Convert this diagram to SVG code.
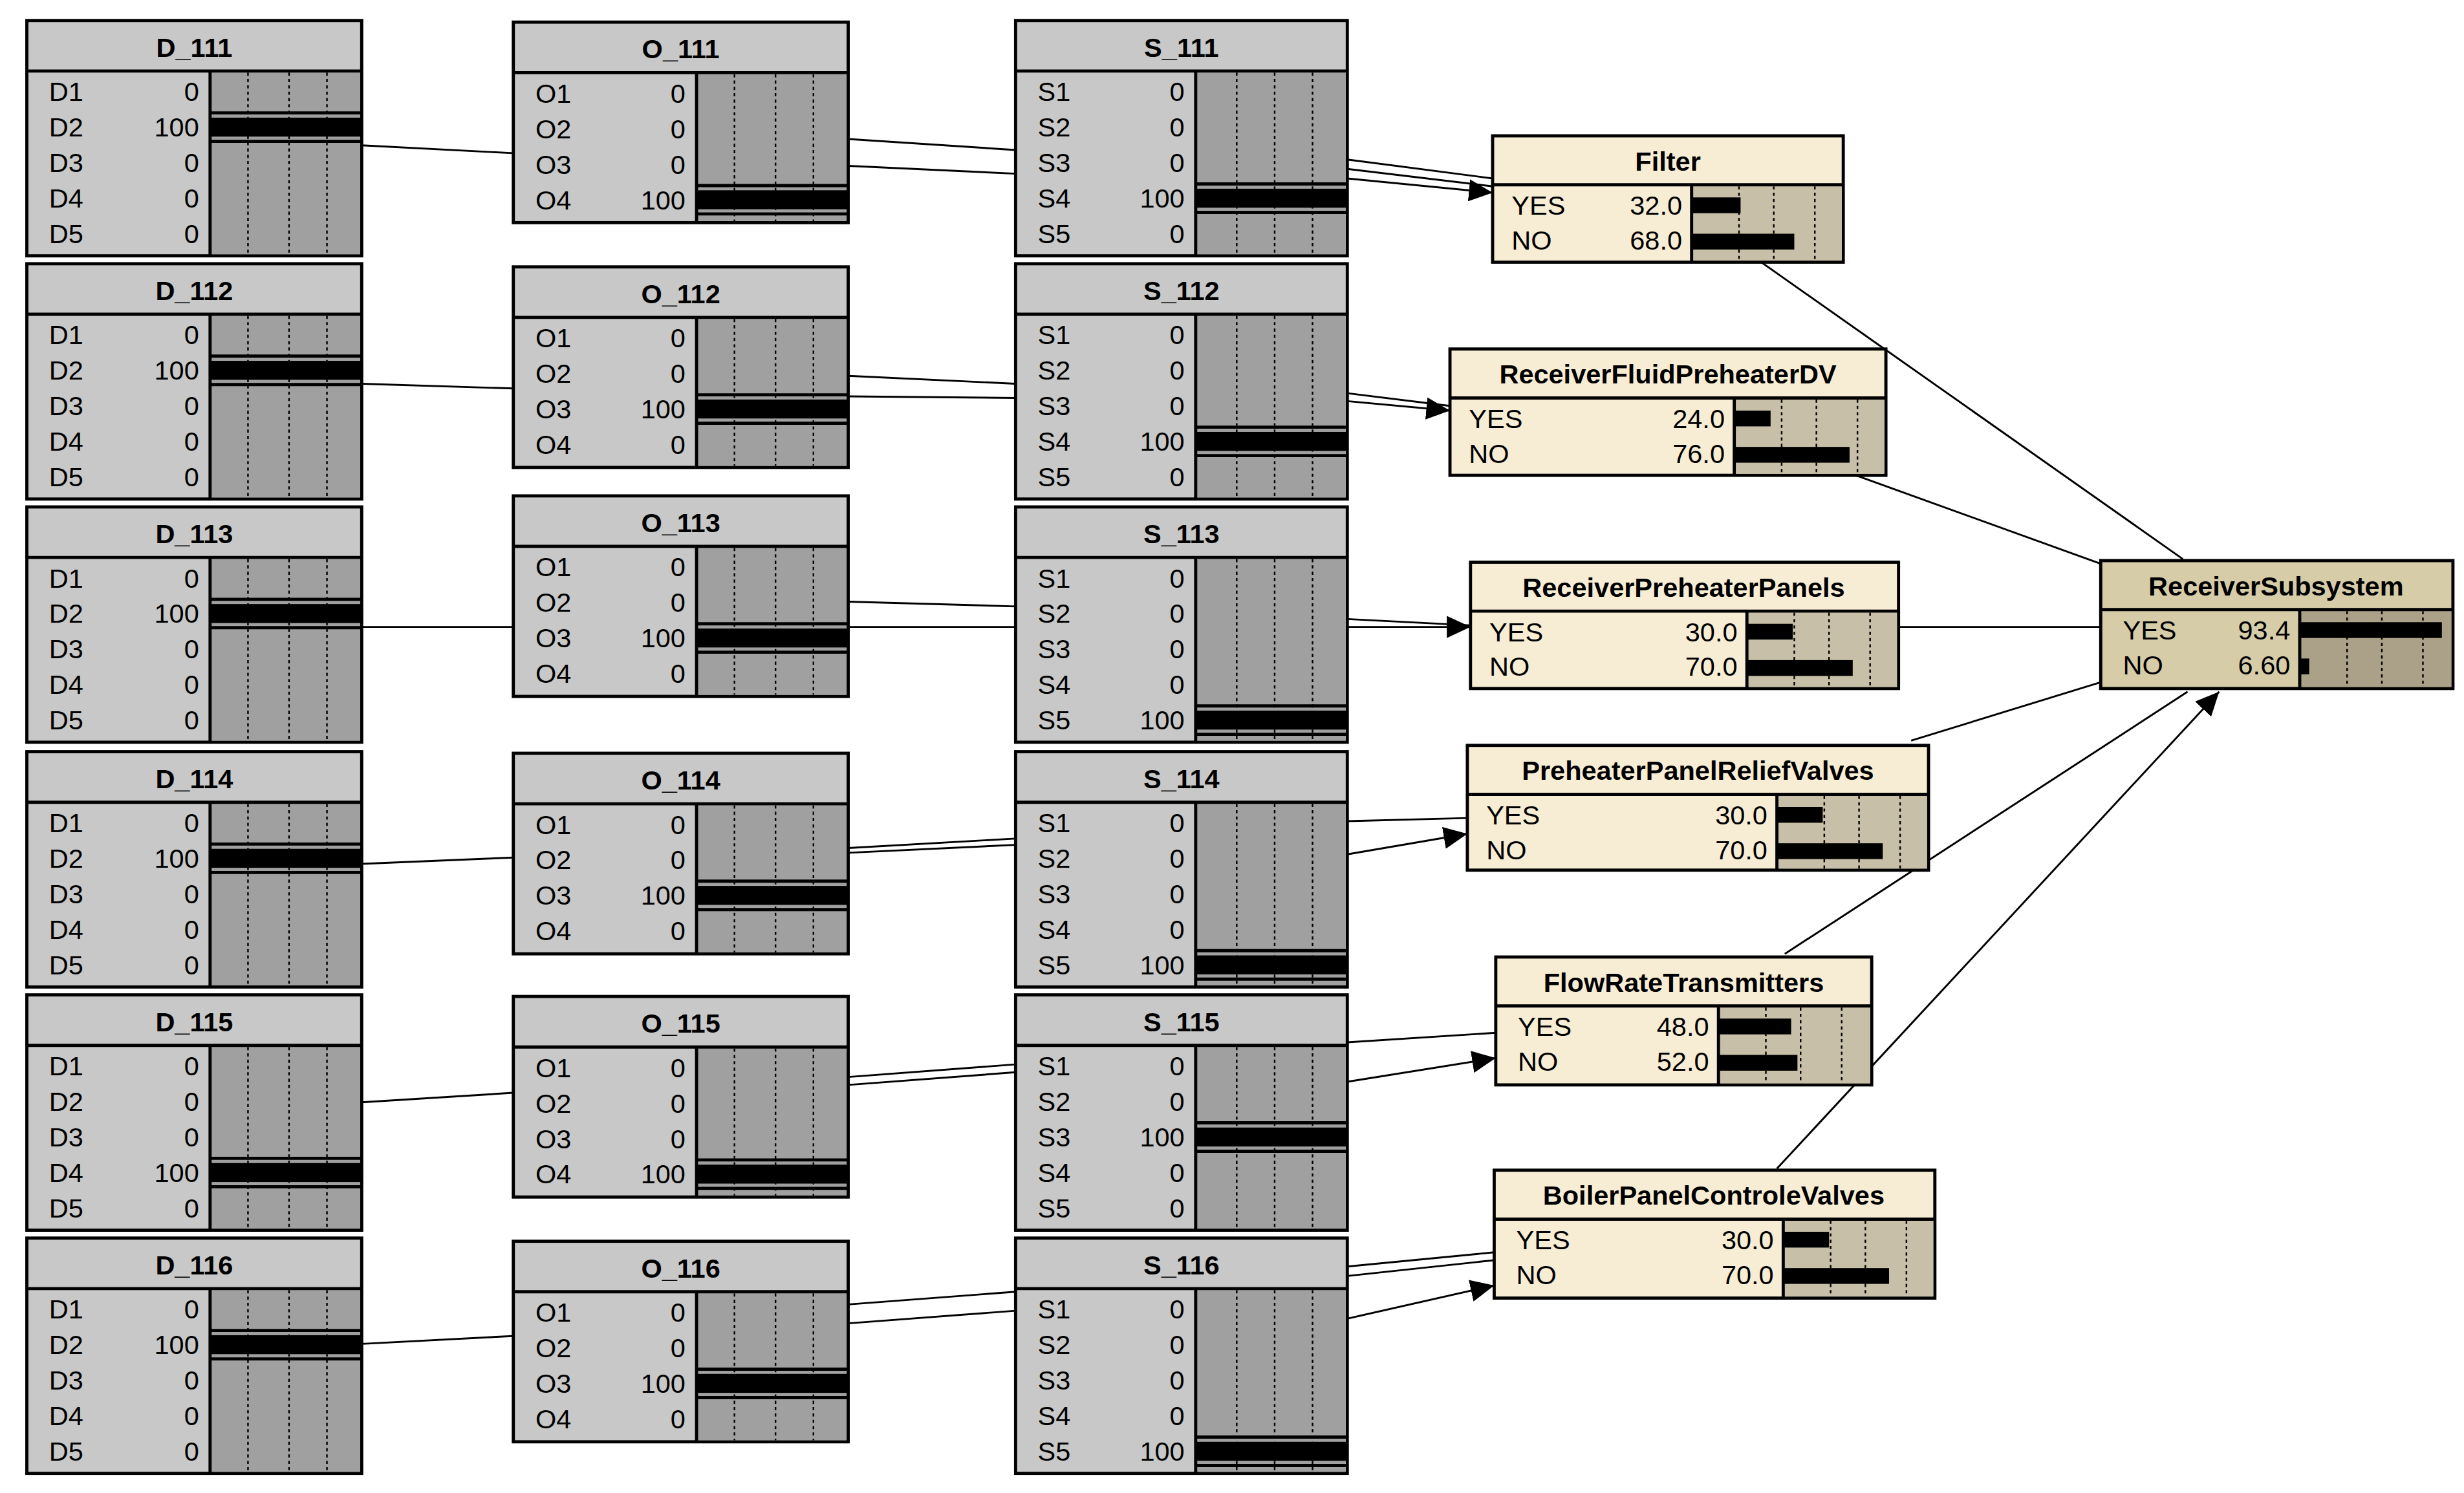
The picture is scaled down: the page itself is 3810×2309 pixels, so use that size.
<svg xmlns="http://www.w3.org/2000/svg" width="3810" height="2309" viewBox="0 0 3810 2309">
<style>
.g{fill:#c8c8c8;stroke:#000;stroke-width:2}
.ba{fill:#a0a0a0}
.dot{stroke:#000;stroke-width:1;stroke-dasharray:2 2;fill:none}
.ln{stroke:#000;stroke-width:2}
text{font-family:"Liberation Sans",Arial,sans-serif;font-size:17px;fill:#000}
.t{font-weight:bold;text-anchor:middle}
.v{text-anchor:end}
.b{fill:#000}
.y{fill:#f7edd4;stroke:#000;stroke-width:2}
.yb{fill:#c8bfa8}
.r{fill:#d6cca8;stroke:#000;stroke-width:2}
.rb{fill:#aaa188}
.c{stroke:#000;stroke-width:1.2;fill:none}
.a{marker-end:url(#ar)}
</style>
<defs>
<marker id="ar" markerUnits="userSpaceOnUse" markerWidth="16" markerHeight="14" refX="15" refY="7" orient="auto"><path d="M0,0L15,7L0,14z" fill="#000"/></marker>
</defs>
<rect width="3810" height="2309" fill="#fff"/>
<g transform="scale(2.4423)">
<g id="connectors">
<path class="c" d="M229,92L325,97M537,88L643,95M537,105L643,110"/>
<path class="c a" d="M853,101L945,113M853,107L945,118M853,113L945,122"/>
<path class="c" d="M229,243L325,246M537,238L643,243M537,251L643,252"/>
<path class="c a" d="M853,249L918,257M853,254L918,260"/>
<path class="c" d="M229,397L325,397M537,381L643,384M537,397L643,397"/>
<path class="c a" d="M853,392L931,396M853,397L931,397"/>
<path class="c" d="M229,547L325,543M537,537L643,531M537,540L643,535"/>
<path class="c a" d="M853,520L929,518M853,541L929,528"/>
<path class="c" d="M229,698L325,692M537,682L643,674M537,687L643,679"/>
<path class="c a" d="M853,660L947,654M853,685L947,670"/>
<path class="c" d="M229,851L325,846M537,826L643,818M537,838L643,830"/>
<path class="c a" d="M853,802L946,793M853,808L946,798M853,835L946,814"/>
<path class="c a" d="M1115,166L1382,354M1175,301L1330,357M1202,397L1330,397M1210,469L1330,432M1130,604L1385,438M1125,740L1405,438"/>
</g>

<g id="D_111" transform="translate(17,13)"><rect class="g" width="212" height="149"/><rect class="ba" x="116" y="33" width="95" height="115"/><path class="dot" d="M140 33V148M166 33V148M190 33V148"/><line class="ln" x1="0" y1="32" x2="212" y2="32"/><line class="ln" x1="116" y1="32" x2="116" y2="149"/><text class="t" x="106" y="23">D_111</text>
<text x="14" y="51">D1</text><text class="v" x="109" y="51">0</text><text x="14" y="73.5">D2</text><text class="v" x="109" y="73.5">100</text><text x="14" y="96">D3</text><text class="v" x="109" y="96">0</text><text x="14" y="118.5">D4</text><text class="v" x="109" y="118.5">0</text><text x="14" y="141">D5</text><text class="v" x="109" y="141">0</text>
<rect class="b" x="116" y="61.5" width="96" height="12"/><path class="ln" d="M116 58.5H212M116 76.5H212"/></g>

<g id="D_112" transform="translate(17,167)"><rect class="g" width="212" height="149"/><rect class="ba" x="116" y="33" width="95" height="115"/><path class="dot" d="M140 33V148M166 33V148M190 33V148"/><line class="ln" x1="0" y1="32" x2="212" y2="32"/><line class="ln" x1="116" y1="32" x2="116" y2="149"/><text class="t" x="106" y="23">D_112</text>
<text x="14" y="51">D1</text><text class="v" x="109" y="51">0</text><text x="14" y="73.5">D2</text><text class="v" x="109" y="73.5">100</text><text x="14" y="96">D3</text><text class="v" x="109" y="96">0</text><text x="14" y="118.5">D4</text><text class="v" x="109" y="118.5">0</text><text x="14" y="141">D5</text><text class="v" x="109" y="141">0</text>
<rect class="b" x="116" y="61.5" width="96" height="12"/><path class="ln" d="M116 58.5H212M116 76.5H212"/></g>

<g id="D_113" transform="translate(17,321)"><rect class="g" width="212" height="149"/><rect class="ba" x="116" y="33" width="95" height="115"/><path class="dot" d="M140 33V148M166 33V148M190 33V148"/><line class="ln" x1="0" y1="32" x2="212" y2="32"/><line class="ln" x1="116" y1="32" x2="116" y2="149"/><text class="t" x="106" y="23">D_113</text>
<text x="14" y="51">D1</text><text class="v" x="109" y="51">0</text><text x="14" y="73.5">D2</text><text class="v" x="109" y="73.5">100</text><text x="14" y="96">D3</text><text class="v" x="109" y="96">0</text><text x="14" y="118.5">D4</text><text class="v" x="109" y="118.5">0</text><text x="14" y="141">D5</text><text class="v" x="109" y="141">0</text>
<rect class="b" x="116" y="61.5" width="96" height="12"/><path class="ln" d="M116 58.5H212M116 76.5H212"/></g>

<g id="D_114" transform="translate(17,476)"><rect class="g" width="212" height="149"/><rect class="ba" x="116" y="33" width="95" height="115"/><path class="dot" d="M140 33V148M166 33V148M190 33V148"/><line class="ln" x1="0" y1="32" x2="212" y2="32"/><line class="ln" x1="116" y1="32" x2="116" y2="149"/><text class="t" x="106" y="23">D_114</text>
<text x="14" y="51">D1</text><text class="v" x="109" y="51">0</text><text x="14" y="73.5">D2</text><text class="v" x="109" y="73.5">100</text><text x="14" y="96">D3</text><text class="v" x="109" y="96">0</text><text x="14" y="118.5">D4</text><text class="v" x="109" y="118.5">0</text><text x="14" y="141">D5</text><text class="v" x="109" y="141">0</text>
<rect class="b" x="116" y="61.5" width="96" height="12"/><path class="ln" d="M116 58.5H212M116 76.5H212"/></g>

<g id="D_115" transform="translate(17,630)"><rect class="g" width="212" height="149"/><rect class="ba" x="116" y="33" width="95" height="115"/><path class="dot" d="M140 33V148M166 33V148M190 33V148"/><line class="ln" x1="0" y1="32" x2="212" y2="32"/><line class="ln" x1="116" y1="32" x2="116" y2="149"/><text class="t" x="106" y="23">D_115</text>
<text x="14" y="51">D1</text><text class="v" x="109" y="51">0</text><text x="14" y="73.5">D2</text><text class="v" x="109" y="73.5">0</text><text x="14" y="96">D3</text><text class="v" x="109" y="96">0</text><text x="14" y="118.5">D4</text><text class="v" x="109" y="118.5">100</text><text x="14" y="141">D5</text><text class="v" x="109" y="141">0</text>
<rect class="b" x="116" y="106.5" width="96" height="12"/><path class="ln" d="M116 103.5H212M116 121.5H212"/></g>

<g id="D_116" transform="translate(17,784)"><rect class="g" width="212" height="149"/><rect class="ba" x="116" y="33" width="95" height="115"/><path class="dot" d="M140 33V148M166 33V148M190 33V148"/><line class="ln" x1="0" y1="32" x2="212" y2="32"/><line class="ln" x1="116" y1="32" x2="116" y2="149"/><text class="t" x="106" y="23">D_116</text>
<text x="14" y="51">D1</text><text class="v" x="109" y="51">0</text><text x="14" y="73.5">D2</text><text class="v" x="109" y="73.5">100</text><text x="14" y="96">D3</text><text class="v" x="109" y="96">0</text><text x="14" y="118.5">D4</text><text class="v" x="109" y="118.5">0</text><text x="14" y="141">D5</text><text class="v" x="109" y="141">0</text>
<rect class="b" x="116" y="61.5" width="96" height="12"/><path class="ln" d="M116 58.5H212M116 76.5H212"/></g>

<g id="O_111" transform="translate(325,14)"><rect class="g" width="212" height="127"/><rect class="ba" x="116" y="33" width="95" height="93"/><path class="dot" d="M140 33V126M166 33V126M190 33V126"/><line class="ln" x1="0" y1="32" x2="212" y2="32"/><line class="ln" x1="116" y1="32" x2="116" y2="127"/><text class="t" x="106" y="23">O_111</text>
<text x="14" y="51">O1</text><text class="v" x="109" y="51">0</text><text x="14" y="73.5">O2</text><text class="v" x="109" y="73.5">0</text><text x="14" y="96">O3</text><text class="v" x="109" y="96">0</text><text x="14" y="118.5">O4</text><text class="v" x="109" y="118.5">100</text>
<rect class="b" x="116" y="106.5" width="96" height="12"/><path class="ln" d="M116 103.5H212M116 121.5H212"/></g>

<g id="O_112" transform="translate(325,169)"><rect class="g" width="212" height="127"/><rect class="ba" x="116" y="33" width="95" height="93"/><path class="dot" d="M140 33V126M166 33V126M190 33V126"/><line class="ln" x1="0" y1="32" x2="212" y2="32"/><line class="ln" x1="116" y1="32" x2="116" y2="127"/><text class="t" x="106" y="23">O_112</text>
<text x="14" y="51">O1</text><text class="v" x="109" y="51">0</text><text x="14" y="73.5">O2</text><text class="v" x="109" y="73.5">0</text><text x="14" y="96">O3</text><text class="v" x="109" y="96">100</text><text x="14" y="118.5">O4</text><text class="v" x="109" y="118.5">0</text>
<rect class="b" x="116" y="84" width="96" height="12"/><path class="ln" d="M116 81H212M116 99H212"/></g>

<g id="O_113" transform="translate(325,314)"><rect class="g" width="212" height="127"/><rect class="ba" x="116" y="33" width="95" height="93"/><path class="dot" d="M140 33V126M166 33V126M190 33V126"/><line class="ln" x1="0" y1="32" x2="212" y2="32"/><line class="ln" x1="116" y1="32" x2="116" y2="127"/><text class="t" x="106" y="23">O_113</text>
<text x="14" y="51">O1</text><text class="v" x="109" y="51">0</text><text x="14" y="73.5">O2</text><text class="v" x="109" y="73.5">0</text><text x="14" y="96">O3</text><text class="v" x="109" y="96">100</text><text x="14" y="118.5">O4</text><text class="v" x="109" y="118.5">0</text>
<rect class="b" x="116" y="84" width="96" height="12"/><path class="ln" d="M116 81H212M116 99H212"/></g>

<g id="O_114" transform="translate(325,477)"><rect class="g" width="212" height="127"/><rect class="ba" x="116" y="33" width="95" height="93"/><path class="dot" d="M140 33V126M166 33V126M190 33V126"/><line class="ln" x1="0" y1="32" x2="212" y2="32"/><line class="ln" x1="116" y1="32" x2="116" y2="127"/><text class="t" x="106" y="23">O_114</text>
<text x="14" y="51">O1</text><text class="v" x="109" y="51">0</text><text x="14" y="73.5">O2</text><text class="v" x="109" y="73.5">0</text><text x="14" y="96">O3</text><text class="v" x="109" y="96">100</text><text x="14" y="118.5">O4</text><text class="v" x="109" y="118.5">0</text>
<rect class="b" x="116" y="84" width="96" height="12"/><path class="ln" d="M116 81H212M116 99H212"/></g>

<g id="O_115" transform="translate(325,631)"><rect class="g" width="212" height="127"/><rect class="ba" x="116" y="33" width="95" height="93"/><path class="dot" d="M140 33V126M166 33V126M190 33V126"/><line class="ln" x1="0" y1="32" x2="212" y2="32"/><line class="ln" x1="116" y1="32" x2="116" y2="127"/><text class="t" x="106" y="23">O_115</text>
<text x="14" y="51">O1</text><text class="v" x="109" y="51">0</text><text x="14" y="73.5">O2</text><text class="v" x="109" y="73.5">0</text><text x="14" y="96">O3</text><text class="v" x="109" y="96">0</text><text x="14" y="118.5">O4</text><text class="v" x="109" y="118.5">100</text>
<rect class="b" x="116" y="106.5" width="96" height="12"/><path class="ln" d="M116 103.5H212M116 121.5H212"/></g>

<g id="O_116" transform="translate(325,786)"><rect class="g" width="212" height="127"/><rect class="ba" x="116" y="33" width="95" height="93"/><path class="dot" d="M140 33V126M166 33V126M190 33V126"/><line class="ln" x1="0" y1="32" x2="212" y2="32"/><line class="ln" x1="116" y1="32" x2="116" y2="127"/><text class="t" x="106" y="23">O_116</text>
<text x="14" y="51">O1</text><text class="v" x="109" y="51">0</text><text x="14" y="73.5">O2</text><text class="v" x="109" y="73.5">0</text><text x="14" y="96">O3</text><text class="v" x="109" y="96">100</text><text x="14" y="118.5">O4</text><text class="v" x="109" y="118.5">0</text>
<rect class="b" x="116" y="84" width="96" height="12"/><path class="ln" d="M116 81H212M116 99H212"/></g>

<g id="S_111" transform="translate(643,13)"><rect class="g" width="210" height="149"/><rect class="ba" x="114" y="33" width="95" height="115"/><path class="dot" d="M140 33V148M164 33V148M188 33V148"/><line class="ln" x1="0" y1="32" x2="210" y2="32"/><line class="ln" x1="114" y1="32" x2="114" y2="149"/><text class="t" x="105" y="23">S_111</text>
<text x="14" y="51">S1</text><text class="v" x="107" y="51">0</text><text x="14" y="73.5">S2</text><text class="v" x="107" y="73.5">0</text><text x="14" y="96">S3</text><text class="v" x="107" y="96">0</text><text x="14" y="118.5">S4</text><text class="v" x="107" y="118.5">100</text><text x="14" y="141">S5</text><text class="v" x="107" y="141">0</text>
<rect class="b" x="114" y="106.5" width="96" height="12"/><path class="ln" d="M114 103.5H210M114 121.5H210"/></g>

<g id="S_112" transform="translate(643,167)"><rect class="g" width="210" height="149"/><rect class="ba" x="114" y="33" width="95" height="115"/><path class="dot" d="M140 33V148M164 33V148M188 33V148"/><line class="ln" x1="0" y1="32" x2="210" y2="32"/><line class="ln" x1="114" y1="32" x2="114" y2="149"/><text class="t" x="105" y="23">S_112</text>
<text x="14" y="51">S1</text><text class="v" x="107" y="51">0</text><text x="14" y="73.5">S2</text><text class="v" x="107" y="73.5">0</text><text x="14" y="96">S3</text><text class="v" x="107" y="96">0</text><text x="14" y="118.5">S4</text><text class="v" x="107" y="118.5">100</text><text x="14" y="141">S5</text><text class="v" x="107" y="141">0</text>
<rect class="b" x="114" y="106.5" width="96" height="12"/><path class="ln" d="M114 103.5H210M114 121.5H210"/></g>

<g id="S_113" transform="translate(643,321)"><rect class="g" width="210" height="149"/><rect class="ba" x="114" y="33" width="95" height="115"/><path class="dot" d="M140 33V148M164 33V148M188 33V148"/><line class="ln" x1="0" y1="32" x2="210" y2="32"/><line class="ln" x1="114" y1="32" x2="114" y2="149"/><text class="t" x="105" y="23">S_113</text>
<text x="14" y="51">S1</text><text class="v" x="107" y="51">0</text><text x="14" y="73.5">S2</text><text class="v" x="107" y="73.5">0</text><text x="14" y="96">S3</text><text class="v" x="107" y="96">0</text><text x="14" y="118.5">S4</text><text class="v" x="107" y="118.5">0</text><text x="14" y="141">S5</text><text class="v" x="107" y="141">100</text>
<rect class="b" x="114" y="129" width="96" height="12"/><path class="ln" d="M114 126H210M114 144H210"/></g>

<g id="S_114" transform="translate(643,476)"><rect class="g" width="210" height="149"/><rect class="ba" x="114" y="33" width="95" height="115"/><path class="dot" d="M140 33V148M164 33V148M188 33V148"/><line class="ln" x1="0" y1="32" x2="210" y2="32"/><line class="ln" x1="114" y1="32" x2="114" y2="149"/><text class="t" x="105" y="23">S_114</text>
<text x="14" y="51">S1</text><text class="v" x="107" y="51">0</text><text x="14" y="73.5">S2</text><text class="v" x="107" y="73.5">0</text><text x="14" y="96">S3</text><text class="v" x="107" y="96">0</text><text x="14" y="118.5">S4</text><text class="v" x="107" y="118.5">0</text><text x="14" y="141">S5</text><text class="v" x="107" y="141">100</text>
<rect class="b" x="114" y="129" width="96" height="12"/><path class="ln" d="M114 126H210M114 144H210"/></g>

<g id="S_115" transform="translate(643,630)"><rect class="g" width="210" height="149"/><rect class="ba" x="114" y="33" width="95" height="115"/><path class="dot" d="M140 33V148M164 33V148M188 33V148"/><line class="ln" x1="0" y1="32" x2="210" y2="32"/><line class="ln" x1="114" y1="32" x2="114" y2="149"/><text class="t" x="105" y="23">S_115</text>
<text x="14" y="51">S1</text><text class="v" x="107" y="51">0</text><text x="14" y="73.5">S2</text><text class="v" x="107" y="73.5">0</text><text x="14" y="96">S3</text><text class="v" x="107" y="96">100</text><text x="14" y="118.5">S4</text><text class="v" x="107" y="118.5">0</text><text x="14" y="141">S5</text><text class="v" x="107" y="141">0</text>
<rect class="b" x="114" y="84" width="96" height="12"/><path class="ln" d="M114 81H210M114 99H210"/></g>

<g id="S_116" transform="translate(643,784)"><rect class="g" width="210" height="149"/><rect class="ba" x="114" y="33" width="95" height="115"/><path class="dot" d="M140 33V148M164 33V148M188 33V148"/><line class="ln" x1="0" y1="32" x2="210" y2="32"/><line class="ln" x1="114" y1="32" x2="114" y2="149"/><text class="t" x="105" y="23">S_116</text>
<text x="14" y="51">S1</text><text class="v" x="107" y="51">0</text><text x="14" y="73.5">S2</text><text class="v" x="107" y="73.5">0</text><text x="14" y="96">S3</text><text class="v" x="107" y="96">0</text><text x="14" y="118.5">S4</text><text class="v" x="107" y="118.5">0</text><text x="14" y="141">S5</text><text class="v" x="107" y="141">100</text>
<rect class="b" x="114" y="129" width="96" height="12"/><path class="ln" d="M114 126H210M114 144H210"/></g>

<g id="Filter" transform="translate(945,86)"><rect class="y" width="222" height="80"/><rect class="yb" x="126" y="32" width="95" height="47"/><path class="dot" d="M156 32V79M178 32V79M204 32V79"/><line class="ln" x1="0" y1="31" x2="222" y2="31"/><line class="ln" x1="126" y1="31" x2="126" y2="80"/><text class="t" x="111" y="22">Filter</text>
<text x="12" y="50">YES</text><text class="v" x="120" y="50">32.0</text><text x="12" y="72">NO</text><text class="v" x="120" y="72">68.0</text>
<rect class="b" x="126" y="39" width="31" height="10"/><rect class="b" x="126" y="62" width="65" height="10"/></g>

<g id="ReceiverFluidPreheaterDV" transform="translate(918,221)"><rect class="y" width="276" height="80"/><rect class="yb" x="180" y="32" width="95" height="47"/><path class="dot" d="M210 32V79M232 32V79M258 32V79"/><line class="ln" x1="0" y1="31" x2="276" y2="31"/><line class="ln" x1="180" y1="31" x2="180" y2="80"/><text class="t" x="138" y="22">ReceiverFluidPreheaterDV</text>
<text x="12" y="50">YES</text><text class="v" x="174" y="50">24.0</text><text x="12" y="72">NO</text><text class="v" x="174" y="72">76.0</text>
<rect class="b" x="180" y="39" width="23" height="10"/><rect class="b" x="180" y="62" width="73" height="10"/></g>

<g id="ReceiverPreheaterPanels" transform="translate(931,356)"><rect class="y" width="271" height="80"/><rect class="yb" x="175" y="32" width="95" height="47"/><path class="dot" d="M205 32V79M227 32V79M253 32V79"/><line class="ln" x1="0" y1="31" x2="271" y2="31"/><line class="ln" x1="175" y1="31" x2="175" y2="80"/><text class="t" x="135" y="22">ReceiverPreheaterPanels</text>
<text x="12" y="50">YES</text><text class="v" x="169" y="50">30.0</text><text x="12" y="72">NO</text><text class="v" x="169" y="72">70.0</text>
<rect class="b" x="175" y="39" width="29" height="10"/><rect class="b" x="175" y="62" width="67" height="10"/></g>

<g id="PreheaterPanelReliefValves" transform="translate(929,472)"><rect class="y" width="292" height="79"/><rect class="yb" x="196" y="32" width="95" height="46"/><path class="dot" d="M226 32V78M248 32V78M274 32V78"/><line class="ln" x1="0" y1="31" x2="292" y2="31"/><line class="ln" x1="196" y1="31" x2="196" y2="79"/><text class="t" x="146" y="22">PreheaterPanelReliefValves</text>
<text x="12" y="50">YES</text><text class="v" x="190" y="50">30.0</text><text x="12" y="72">NO</text><text class="v" x="190" y="72">70.0</text>
<rect class="b" x="196" y="39" width="29" height="10"/><rect class="b" x="196" y="62" width="67" height="10"/></g>

<g id="FlowRateTransmitters" transform="translate(947,606)"><rect class="y" width="238" height="81"/><rect class="yb" x="141" y="32" width="96" height="48"/><path class="dot" d="M171 32V80M193 32V80M219 32V80"/><line class="ln" x1="0" y1="31" x2="238" y2="31"/><line class="ln" x1="141" y1="31" x2="141" y2="81"/><text class="t" x="119" y="22">FlowRateTransmitters</text>
<text x="14" y="50">YES</text><text class="v" x="135" y="50">48.0</text><text x="14" y="72">NO</text><text class="v" x="135" y="72">52.0</text>
<rect class="b" x="141" y="39" width="46" height="10"/><rect class="b" x="141" y="62" width="50" height="10"/></g>

<g id="BoilerPanelControleValves" transform="translate(946,741)"><rect class="y" width="279" height="81"/><rect class="yb" x="183" y="32" width="95" height="48"/><path class="dot" d="M213 32V80M235 32V80M261 32V80"/><line class="ln" x1="0" y1="31" x2="279" y2="31"/><line class="ln" x1="183" y1="31" x2="183" y2="81"/><text class="t" x="139" y="22">BoilerPanelControleValves</text>
<text x="14" y="50">YES</text><text class="v" x="177" y="50">30.0</text><text x="14" y="72">NO</text><text class="v" x="177" y="72">70.0</text>
<rect class="b" x="183" y="39" width="29" height="10"/><rect class="b" x="183" y="62" width="67" height="10"/></g>

<g id="ReceiverSubsystem" transform="translate(1330,355)"><rect class="r" width="223" height="81"/><rect class="rb" x="126" y="32" width="96" height="48"/><path class="dot" d="M156 32V80M178 32V80M204 32V80"/><line class="ln" x1="0" y1="31" x2="223" y2="31"/><line class="ln" x1="126" y1="31" x2="126" y2="81"/><text class="t" x="111" y="22">ReceiverSubsystem</text>
<text x="14" y="50">YES</text><text class="v" x="120" y="50">93.4</text><text x="14" y="72">NO</text><text class="v" x="120" y="72">6.60</text>
<rect class="b" x="126" y="39" width="90" height="10"/><rect class="b" x="126" y="62" width="6" height="10"/></g>
</g>
</svg>
